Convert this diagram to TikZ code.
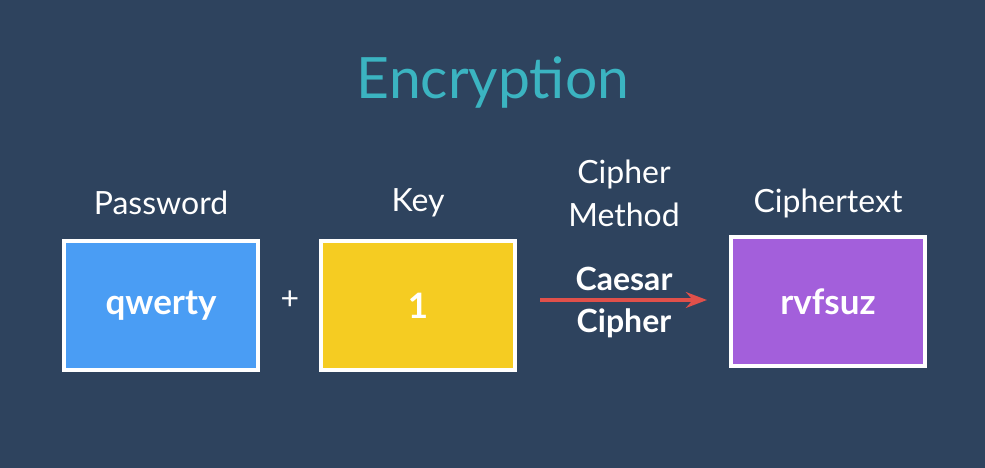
\documentclass[tikz,border=0pt]{standalone}
\usepackage{fontspec}
\setmainfont{Lato}
\usetikzlibrary{positioning, arrows.meta}
\definecolor{bgnavy}{HTML}{2E435E}
\definecolor{titleteal}{HTML}{3BB4C1}
\definecolor{pwblue}{HTML}{4A9DF4}
\definecolor{keyyellow}{HTML}{F5CC22}
\definecolor{ctpurple}{HTML}{A35FDB}
\definecolor{arrowred}{HTML}{E0504A}

\begin{document}
\begin{tikzpicture}[x=1pt, y=1pt, >=Stealth, every node/.style={text=white, font=\fontsize{32}{38}\selectfont}]
  \tikzset{box/.style={draw=white, line width=4pt, minimum width=194pt, minimum height=129pt, font=\fontsize{35}{40}\selectfont\bfseries}}
  \fill[bgnavy] (0,0) rectangle (985,468);
  \useasboundingbox (0,0) rectangle (985,468);

  \node[text=titleteal, font=\fontsize{57}{64}\selectfont] (title) at (493,385) {Encryption};

  \node[box, fill=pwblue] (pw) at (161,162) {qwerty};
  \node[box, fill=keyyellow] (key) at (418,162) {1};
  \node[box, fill=ctpurple] (ct) at (828,166) {rvfsuz};
  \node (plus) at (290,168) {+};

  \node (pwlabel) at (161,265) {Password};
  \node (keylabel) at (418,265) {Key};
  \node (ctlabel) at (828,265) {Ciphertext};
  \node[align=center, font=\fontsize{32}{43}\selectfont] (method) at (624,275) {Cipher\\Method};

  % cipher method arrow with its name above and below
  \coordinate (arrstart) at (540,168);
  \coordinate (arrend) at (707,168);
  \draw[->, arrowred, line width=4pt] (arrstart) -- (arrend);
  \node[font=\fontsize{32}{38}\selectfont\bfseries] (caesar) at (624,189) {Caesar};
  \node[font=\fontsize{32}{38}\selectfont\bfseries] (cipher) at (624,145) {Cipher};
\end{tikzpicture}
\end{document}
